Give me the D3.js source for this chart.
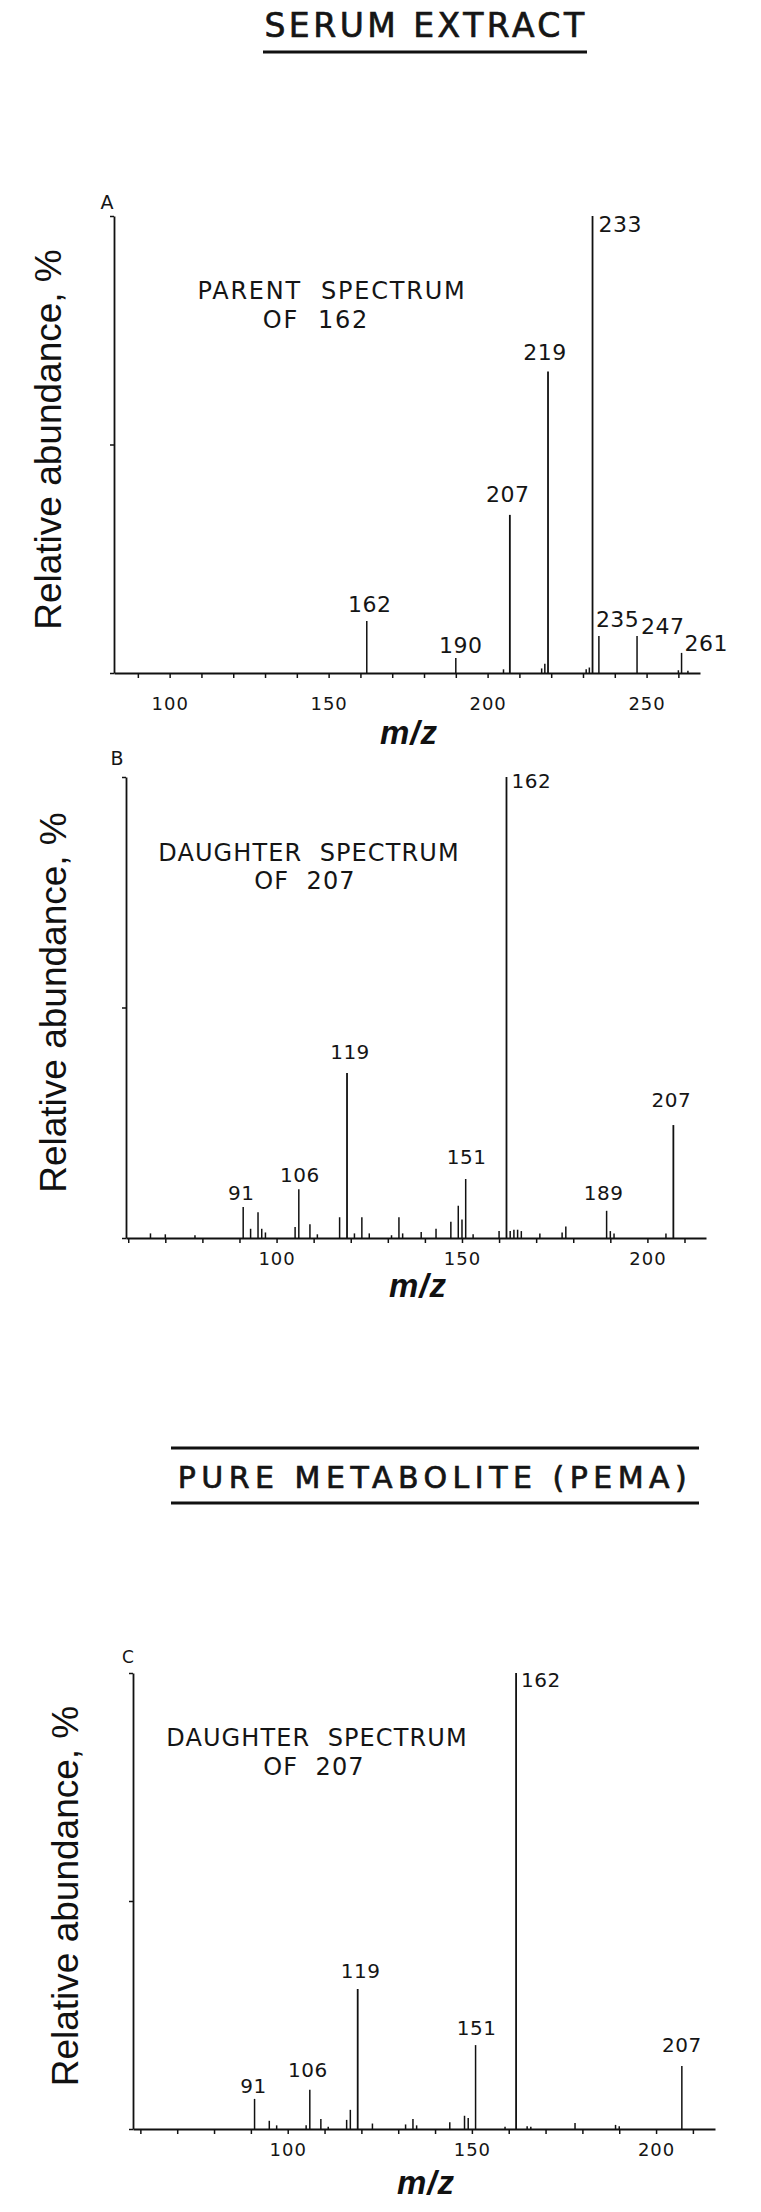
<!DOCTYPE html>
<html>
<head>
<meta charset="utf-8">
<script src="https://cdn.jsdelivr.net/npm/d3@7"></script>
<style>
body { margin: 0; background: #fff; }
svg { display: block; background: #fff; }
.lettering { font-family: "DejaVu Sans", sans-serif; fill: #151515; }
.heading { stroke: #151515; stroke-width: 0.7px; }
.ylabel { font-family: "Liberation Sans", Arial, sans-serif; font-size: 37px; fill: #111; }
.xlabel { font-family: "Liberation Sans", Arial, sans-serif; font-size: 33px; font-weight: bold; font-style: italic; fill: #111; letter-spacing: 1px; }
</style>
</head>
<body>
<svg id="chart" width="761" height="2212"></svg>
<script>
// A: serum extract, parent spectrum of 162
const mzA = [162, 190, 205, 207, 217, 218, 219, 231, 232, 233, 235, 247, 260, 261, 263]
const abundA = [11.4, 3.3, 0.8, 34.6, 1.0, 2.0, 66, 0.8, 1.2, 100, 8.1, 8.1, 0.6, 4.4, 0.5]
const labeledA = [162, 190, 207, 219, 233, 235, 247, 261]

// B: serum extract, daughter spectrum of 207
const mzB = [66, 70, 78, 91, 93, 95, 96, 97, 105, 106, 109, 111, 117, 119, 121, 123, 125, 131, 133, 134,
    139, 143, 147, 149, 150, 151, 153, 160, 162, 163, 164, 165, 166, 171, 177, 178, 189, 190, 191, 205, 207]
const abundB = [1.0, 0.8, 0.6, 6.7, 2.0, 5.6, 2.0, 1.2, 2.4, 10.6, 3.0, 0.8, 4.5, 35.8, 1.0, 4.5, 1.0, 0.6, 4.5, 1.0,
    1.3, 2.0, 3.5, 7.0, 4.0, 12.8, 0.8, 1.5, 100, 1.5, 1.8, 1.8, 1.5, 1.0, 1.2, 2.5, 5.9, 1.5, 1.0, 1.0, 24.5]
const labeledB = [91, 106, 119, 151, 162, 189, 207]

// C: pure metabolite (PEMA), daughter spectrum of 207
const mzC = [91, 95, 97, 105, 106, 109, 111, 116, 117, 119, 123, 132, 134, 135, 144, 148, 149, 151,
    159, 162, 165, 166, 178, 189, 190, 207]
const abundC = [6.6, 1.8, 0.8, 0.8, 8.6, 2.2, 0.5, 2.0, 4.2, 30.7, 1.2, 1.0, 2.2, 0.8, 1.5, 2.9, 2.4, 18.4,
    0.5, 100, 0.6, 0.5, 1.3, 0.9, 0.6, 13.8]
const labeledC = [91, 106, 119, 151, 162, 207]

const tickLabels = [100, 150, 200, 250]
const yTicks = [0, 50, 100]

const svg = d3.select('#chart')

// label placement per panel: [anchor, dx, dy from peak top to text baseline]
const panels = [
    {
        name: 'A', mz: mzA, abund: abundA, labeled: labeledA,
        domain: [82.5, 266.8], left: 114, right: 700, top: 216, base: 673,
        tickStart: 90, tickLabelY: 37, xLabelY: 744, yLabelX: 61, labelSize: 22,
        letterPos: [107, 209], note: ['PARENT  SPECTRUM', 'OF  162'], notePos: [[332, 299], [316, 328]], noteSpacing: 1.8,
        labelPos: { 233: ['start', 6, 16], 219: ['middle', -3, -11], 207: ['middle', -2, -13], 162: ['middle', 3, -9],
            190: ['middle', 5, -5], 235: ['start', -3, -9], 247: ['start', 4, -2], 261: ['start', 3, -2] }
    },
    {
        name: 'B', mz: mzB, abund: abundB, labeled: labeledB,
        domain: [59.4, 215.8], left: 126, right: 706, top: 777, base: 1238,
        tickStart: 60, tickLabelY: 27, xLabelY: 1297, yLabelX: 66, labelSize: 20,
        letterPos: [117, 765], note: ['DAUGHTER  SPECTRUM', 'OF  207'], notePos: [[309, 861], [305, 889]], noteSpacing: 1.1,
        labelPos: { 162: ['start', 5, 11], 119: ['middle', 3, -14], 207: ['middle', -2, -18], 151: ['middle', 1, -15],
            106: ['middle', 1, -7], 91: ['middle', -2, -7], 189: ['middle', -3, -11] }
    },
    {
        name: 'C', mz: mzC, abund: abundC, labeled: labeledC,
        domain: [58, 216], left: 133, right: 715, top: 1673, base: 2129,
        tickStart: 60, tickLabelY: 27, xLabelY: 2194, yLabelX: 78, labelSize: 20,
        letterPos: [128, 1663], note: ['DAUGHTER  SPECTRUM', 'OF  207'], notePos: [[317, 1746], [314, 1775]], noteSpacing: 1.1,
        labelPos: { 162: ['start', 5, 14], 119: ['middle', 3, -11], 151: ['middle', 1, -10], 207: ['middle', 0, -14],
            106: ['middle', -2, -13], 91: ['middle', -1, -6] }
    }
]

// section headings
svg.append('text').attr('class', 'lettering heading')
    .attr('x', 426).attr('y', 37)
    .attr('text-anchor', 'middle')
    .style('font-size', '33px').style('letter-spacing', '3.5px')
    .text('SERUM EXTRACT')
svg.append('line').attr('x1', 263).attr('x2', 587).attr('y1', 52).attr('y2', 52)
    .attr('stroke', '#111').attr('stroke-width', 3)

svg.append('text').attr('class', 'lettering heading')
    .attr('x', 435).attr('y', 1488)
    .attr('text-anchor', 'middle')
    .style('font-size', '30px').style('letter-spacing', '5.5px')
    .text('PURE METABOLITE (PEMA)')
svg.selectAll('.rule').data([1448, 1503]).enter().append('line')
    .attr('class', 'rule')
    .attr('x1', 171).attr('x2', 699)
    .attr('y1', d => d).attr('y2', d => d)
    .attr('stroke', '#111').attr('stroke-width', 3)

panels.forEach(function (p) {
    const x = d3.scaleLinear().domain(p.domain).range([p.left, p.right])
    const y = d3.scaleLinear().domain([0, 100]).range([p.base, p.top])
    const g = svg.append('g').attr('class', 'panel-' + p.name)

    const peaks = p.mz.map((m, i) => ({ mz: m, value: p.abund[i] }))

    // x axis
    const xAxis = g.append('g')
        .attr('transform', 'translate(0,' + p.base + ')')
        .call(d3.axisBottom(x)
            .tickValues(d3.range(p.tickStart, p.domain[1], 10))
            .tickSize(5)
            .tickSizeOuter(0)
            .tickFormat(d => tickLabels.includes(d) ? d : ''))
    xAxis.select('.domain').attr('stroke', '#111').attr('stroke-width', 2)
    xAxis.selectAll('.tick line').attr('stroke', '#111').attr('stroke-width', 1.5)
    xAxis.selectAll('.tick text')
        .attr('class', 'lettering')
        .attr('y', p.tickLabelY).attr('dy', null)
        .style('font-size', '18px').style('letter-spacing', '1px')
        .attr('font-family', null)

    // y axis, no labels
    const yAxis = g.append('g')
        .attr('transform', 'translate(' + p.left + ',0)')
        .call(d3.axisLeft(y).tickValues(yTicks).tickSize(4).tickSizeOuter(0).tickFormat(''))
    yAxis.select('.domain').attr('stroke', '#111').attr('stroke-width', 1.8)
    yAxis.selectAll('.tick line').attr('stroke', '#111').attr('stroke-width', 1.5)

    // peaks
    g.append('g').selectAll('line')
        .data(peaks)
        .enter().append('line')
        .attr('x1', d => x(d.mz)).attr('x2', d => x(d.mz))
        .attr('y1', y(0)).attr('y2', d => y(d.value))
        .attr('stroke', '#111')
        .attr('stroke-width', d => d.value > 20 ? 1.8 : 1.5)

    // peak labels
    g.append('g').selectAll('text')
        .data(peaks.filter(d => p.labeled.includes(d.mz)))
        .enter().append('text')
        .attr('class', 'lettering')
        .style('font-size', p.labelSize + 'px').style('letter-spacing', '0.5px')
        .attr('text-anchor', d => p.labelPos[d.mz][0])
        .attr('x', d => x(d.mz) + p.labelPos[d.mz][1])
        .attr('y', d => y(d.value) + p.labelPos[d.mz][2])
        .text(d => d.mz)

    // panel letter
    g.append('text').attr('class', 'lettering')
        .attr('x', p.letterPos[0]).attr('y', p.letterPos[1])
        .attr('text-anchor', 'middle')
        .style('font-size', p.name === 'C' ? '17px' : '19px')
        .text(p.name)

    // spectrum note
    g.selectAll('.note').data(p.note).enter().append('text')
        .attr('class', 'lettering note')
        .attr('x', (d, i) => p.notePos[i][0]).attr('y', (d, i) => p.notePos[i][1])
        .attr('text-anchor', 'middle')
        .style('font-size', '24px').style('letter-spacing', p.noteSpacing + 'px')
        .style('white-space', 'pre')
        .text(d => d)

    // axis titles
    g.append('text').attr('class', 'xlabel')
        .attr('x', (p.left + p.right) / 2 + 2).attr('y', p.xLabelY)
        .attr('text-anchor', 'middle')
        .text('m/z')

    g.append('text').attr('class', 'ylabel')
        .attr('transform', 'translate(' + p.yLabelX + ',' + ((p.top + p.base) / 2 - 5) + ') rotate(-90)')
        .attr('text-anchor', 'middle')
        .text('Relative abundance, %')
})
</script>
</body>
</html>
